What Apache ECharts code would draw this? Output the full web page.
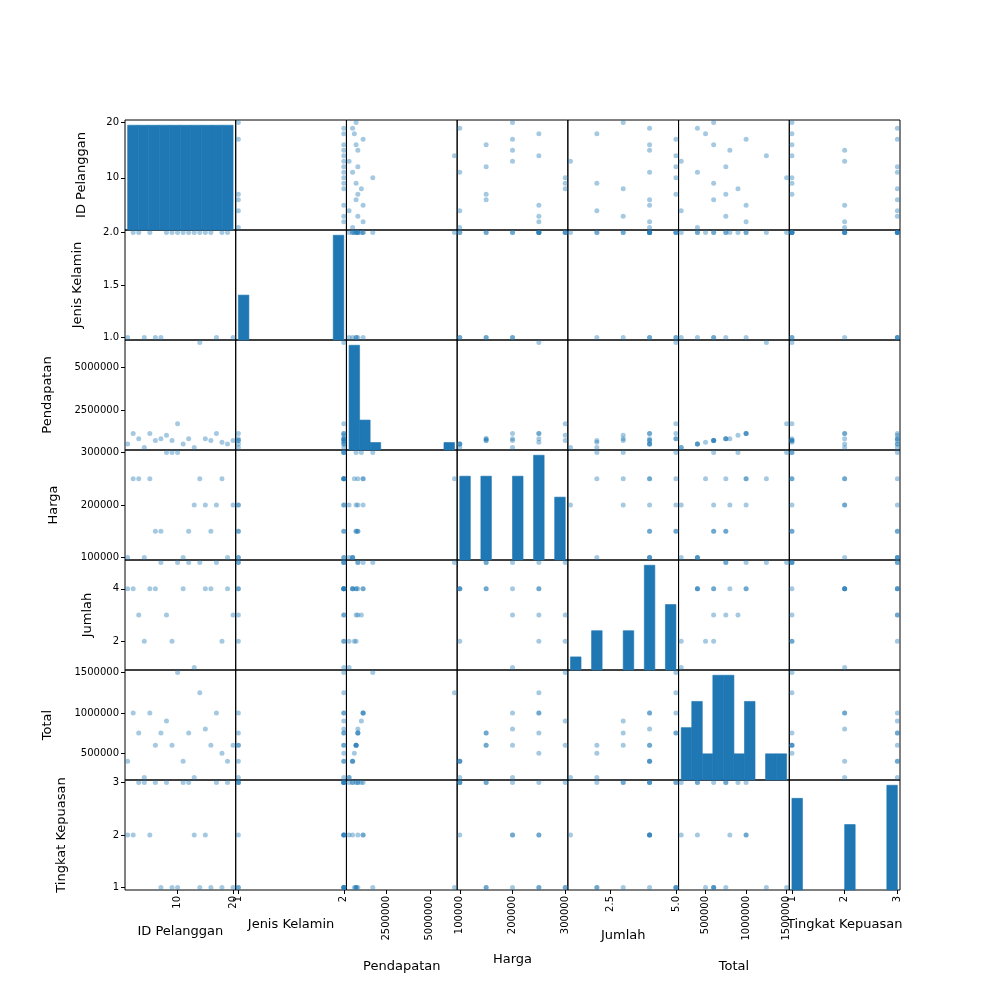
<!DOCTYPE html>
<html><head><meta charset="utf-8">
<script src="https://cdn.jsdelivr.net/npm/echarts@6/dist/echarts.min.js"></script>
<style>html,body{margin:0;padding:0;background:#fff}#c{width:1000px;height:1000px}</style>
</head><body><div id="c"></div>
<script>
const names = ['ID Pelanggan','Jenis Kelamin','Pendapatan','Harga','Jumlah','Total','Tingkat Kepuasan'];
const idP    = [1,2,3,4,5,6,7,8,9,10,11,12,13,14,15,16,17,18,19,20];
const jk     = [1,2,2,1,2,1,1,2,2,2,2,2,2,2,2,2,1,2,2,1];
const pend   = [600000,1200000,900000,400000,1200000,800000,900000,1100000,800000,1750000,600000,900000,400000,6400000,900000,800000,1200000,700000,600000,800000];
const harga  = [100000,250000,250000,100000,250000,150000,150000,300000,300000,300000,100000,150000,200000,250000,200000,150000,200000,250000,100000,200000];
const jumlah = [4,4,3,2,4,4,5,3,2,5,4,5,1,5,4,4,5,2,4,3];
const total  = [400000,1000000,750000,200000,1000000,600000,750000,900000,600000,1500000,400000,750000,200000,1250000,800000,600000,1000000,500000,400000,600000];
const tk     = [2,2,3,3,2,3,1,3,1,1,3,3,2,1,2,1,3,1,3,1];
const ticks = [
  [10,20],
  [1.0,1.5,2.0],
  [2500000,5000000],
  [100000,200000,300000],
  [2,4],
  [500000,1000000,1500000],
  [1,2,3]
];
const xTicks = [[10,20],[1,2],[2500000,5000000],[100000,200000,300000],[2.5,5.0],[500000,1000000,1500000],[1,2,3]];
const yNameGap = [37,41,71,65,31,71,57];
const xNameGap = [35,28,70,63,39,70,28];

const cols = [idP,jk,pend,harga,jumlah,total,tk];
const n = cols.length;
const L=125, T=120, W=775/7, H=770/7;
const ranges = cols.map(c=>{const mn=Math.min(...c), mx=Math.max(...c), d=(mx-mn)*0.025; return [mn-d,mx+d,mn,mx];});

const grids=[], xAxes=[], yAxes=[], series=[];
const FONT='DejaVu Sans';
for(let i=0;i<n;i++){ for(let j=0;j<n;j++){
  const g=grids.length;
  grids.push({left:L+j*W, top:T+i*H, width:W, height:H, show:true, borderColor:'#000', borderWidth:1, backgroundColor:'transparent'});
  const bottom = i===n-1, left = j===0;
  xAxes.push({type:'value', gridIndex:g, min:ranges[j][0], max:ranges[j][1], position:'bottom',
    splitLine:{show:false}, axisLine:{show:false},
    axisTick:{show:bottom, customValues:xTicks[j], length:4, lineStyle:{color:'#000'}},
    axisLabel:{show:bottom, customValues:xTicks[j], rotate:90, fontFamily:FONT, fontSize:10, color:'#000', margin:6,
      formatter:v=> (j===4? v.toFixed(1): String(v))},
    name: bottom?names[j]:'', nameLocation:'middle', nameGap:xNameGap[j], nameTextStyle:{fontFamily:FONT,fontSize:13,color:'#000'}});
  const yi=yAxes.length;
  const yt = ticks[i];
  yAxes.push({type:'value', gridIndex:g, min:ranges[i][0], max:ranges[i][1], position:'left',
    splitLine:{show:false}, axisLine:{show:false},
    axisTick:{show:left, customValues:yt, length:4, lineStyle:{color:'#000'}},
    axisLabel:{show:left, customValues:yt, fontFamily:FONT, fontSize:10, color:'#000', margin:6,
      formatter:v=> (i===1? v.toFixed(1): String(v))},
    name: left?names[i]:'', nameLocation:'middle', nameGap:yNameGap[i], nameRotate:90, nameTextStyle:{fontFamily:FONT,fontSize:13,color:'#000'}});
  if(i===j){
    const c=cols[i], mn=ranges[i][2], mx=ranges[i][3], bw=(mx-mn)/10;
    const cnt=new Array(10).fill(0);
    c.forEach(v=>{let k=Math.floor((v-mn)/bw); if(k>9)k=9; cnt[k]++;});
    const data=cnt.map((v,k)=>[mn+k*bw, mn+(k+1)*bw, v]);
    const hy=yAxes.length;
    yAxes.push({type:'value', gridIndex:g, min:0, max:Math.max(...cnt)*1.05, show:false});
    series.push({type:'custom', xAxisIndex:g, yAxisIndex:hy, data:data, silent:true,
      encode:{x:[0,1],y:2},
      renderItem:(params,api)=>{
        const p0=api.coord([api.value(0),0]), p1=api.coord([api.value(1),api.value(2)]);
        if(api.value(2)<=0) return null;
        return {type:'rect', shape:{x:p0[0],y:p1[1],width:p1[0]-p0[0],height:p0[1]-p1[1]}, style:{fill:'#1f77b4',stroke:'#1f77b4',lineWidth:0.6}};
      }});
  } else {
    series.push({type:'scatter', xAxisIndex:g, yAxisIndex:yi, symbolSize:5, silent:true,
      itemStyle:{color:'rgba(31,119,180,0.5)'},
      data: cols[j].map((v,k)=>[v, cols[i][k]])});
  }
}}
const chart=echarts.init(document.getElementById('c'),null,{renderer:'canvas'});
chart.setOption({animation:false, grid:grids, xAxis:xAxes, yAxis:yAxes, series:series});
</script></body></html>
